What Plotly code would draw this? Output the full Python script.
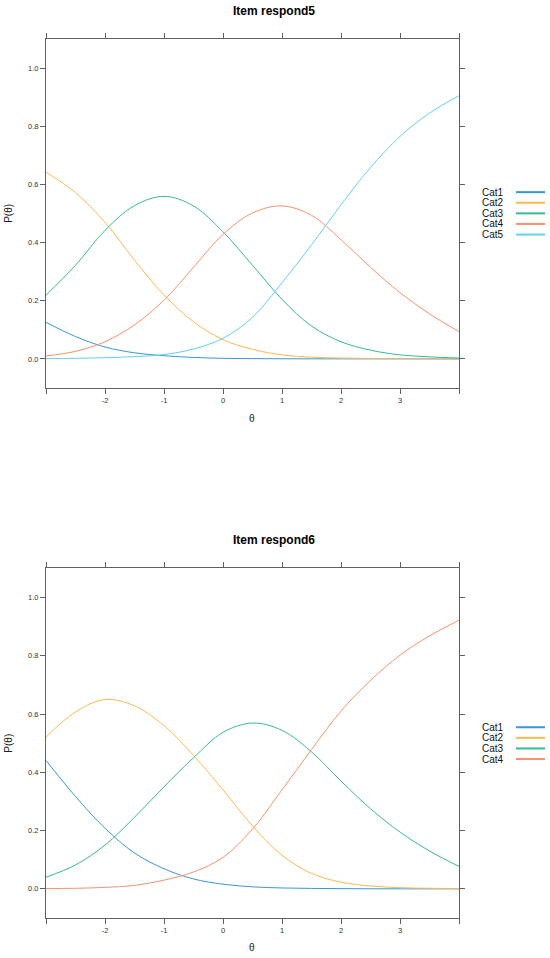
import plotly.graph_objects as go
from plotly.subplots import make_subplots

# ---------------- data ----------------
theta = [-3.0, -2.5, -2.0, -1.5, -1.0, -0.5, 0.0, 0.5, 1.0, 1.5, 2.0, 2.5, 3.0, 3.5, 4.0]

item5_title = "Item respond5"
item5_cats = ["Cat1", "Cat2", "Cat3", "Cat4", "Cat5"]
item5_cat1 = [0.126, 0.077, 0.041, 0.021, 0.011, 0.005, 0.002, 0.001, 0.0005, 0.0003, 0.0002, 0.0001, 0.0001, 0.0, 0.0]
item5_cat2 = [0.642, 0.572, 0.470, 0.340, 0.220, 0.128, 0.066, 0.033, 0.014, 0.006, 0.003, 0.0015, 0.0008, 0.0004, 0.0002]
item5_cat3 = [0.219, 0.322, 0.442, 0.527, 0.559, 0.526, 0.437, 0.322, 0.205, 0.113, 0.059, 0.030, 0.014, 0.007, 0.003]
item5_cat4 = [0.010, 0.026, 0.059, 0.117, 0.202, 0.315, 0.428, 0.502, 0.526, 0.494, 0.410, 0.315, 0.228, 0.155, 0.094]
item5_cat5 = [0.001, 0.002, 0.004, 0.008, 0.015, 0.034, 0.071, 0.143, 0.262, 0.392, 0.530, 0.658, 0.765, 0.845, 0.905]

item6_title = "Item respond6"
item6_cats = ["Cat1", "Cat2", "Cat3", "Cat4"]
item6_cat1 = [0.441, 0.317, 0.208, 0.123, 0.069, 0.034, 0.016, 0.007, 0.003, 0.0015, 0.0007, 0.0003, 0.0001, 0.0, 0.0]
item6_cat2 = [0.521, 0.607, 0.650, 0.628, 0.560, 0.458, 0.340, 0.216, 0.115, 0.053, 0.023, 0.010, 0.004, 0.002, 0.001]
item6_cat3 = [0.040, 0.082, 0.150, 0.246, 0.350, 0.450, 0.537, 0.569, 0.544, 0.470, 0.370, 0.275, 0.195, 0.130, 0.077]
item6_cat4 = [0.001, 0.002, 0.005, 0.012, 0.030, 0.058, 0.108, 0.205, 0.340, 0.478, 0.610, 0.715, 0.802, 0.868, 0.922]

x_tick_vals = [-3, -2, -1, 0, 1, 2, 3, 4]
x_tick_text = ["", "-2", "-1", "0", "1", "2", "3", ""]
y_tick_vals = [0.0, 0.2, 0.4, 0.6, 0.8, 1.0]
y_tick_text = ["0.0", "0.2", "0.4", "0.6", "0.8", "1.0"]

colors5 = ["#3A97D4", "#FDB852", "#36BA90", "#F7916D", "#62D0EF"]
colors6 = ["#3A97D4", "#FDB852", "#36BA90", "#F7916D"]

# ---------------- figure ----------------
W, H = 550, 958
ML, MR, MT, MB = 46, 91, 39, 40
PW, PH = W - ML - MR, H - MT - MB

def px_x(p):
    return (p - ML) / PW

def px_y(p):
    return (H - MB - p) / PH

top_dom = [px_y(388), 1.0]
bot_dom = [0.0, px_y(568.3)]

fig = make_subplots(rows=2, cols=1)

series5 = [item5_cat1, item5_cat2, item5_cat3, item5_cat4, item5_cat5]
series6 = [item6_cat1, item6_cat2, item6_cat3, item6_cat4]

for name, vals, col in zip(item5_cats, series5, colors5):
    fig.add_trace(go.Scatter(x=theta, y=vals, mode="lines", name=name,
                             line=dict(color=col, width=1, shape="spline", smoothing=1.0),
                             showlegend=False), row=1, col=1)
for name, vals, col in zip(item6_cats, series6, colors6):
    fig.add_trace(go.Scatter(x=theta, y=vals, mode="lines", name=name,
                             line=dict(color=col, width=1, shape="spline", smoothing=1.0),
                             showlegend=False), row=2, col=1)

axis_font = dict(family="Liberation Sans, Arial, sans-serif", size=7.5, color="#333333")
common_x = dict(range=[-3, 4], tickmode="array", tickvals=x_tick_vals, ticktext=x_tick_text,
                showline=True, linecolor="#606060", linewidth=1, mirror="ticks",
                ticks="outside", ticklen=5, tickcolor="#606060", tickwidth=1,
                showgrid=False, zeroline=False, tickfont=axis_font)
common_y = dict(range=[-0.1, 1.1], tickmode="array", tickvals=y_tick_vals, ticktext=y_tick_text,
                showline=True, linecolor="#606060", linewidth=1, mirror="ticks",
                ticks="outside", ticklen=5, tickcolor="#606060", tickwidth=1,
                showgrid=False, zeroline=False, tickfont=axis_font)

fig.update_layout(
    width=W, height=H,
    margin=dict(l=ML, r=MR, t=MT, b=MB),
    plot_bgcolor="white", paper_bgcolor="white",
    showlegend=False,
    xaxis=dict(domain=[0, 1], **common_x),
    yaxis=dict(domain=top_dom, **common_y),
    xaxis2=dict(domain=[0, 1], **common_x),
    yaxis2=dict(domain=bot_dom, **common_y),
    font=dict(family="Liberation Sans, Arial, sans-serif"),
)

annotations = []
shapes = []
title_font = dict(family="Liberation Sans, Arial, sans-serif", size=12, color="#000000")
lab_font = dict(family="Liberation Sans, Arial, sans-serif", size=10, color="#222222")
leg_font = dict(family="Liberation Sans, Arial, sans-serif", size=10, color="#111111")

panels = [
    (item5_title, 11, 38.7, 388.0, 418.3, item5_cats, colors5),
    (item6_title, 540, 568.3, 918.0, 947.7, item6_cats, colors6),
]
for title, ty, ptop, pbot, xlab_y, cats, cols in panels:
    annotations.append(dict(text="<b>%s</b>" % title, x=px_x(274), y=px_y(ty), xref="paper", yref="paper",
                            xanchor="center", yanchor="middle", showarrow=False, font=title_font))
    annotations.append(dict(text="θ", x=px_x(252.4), y=px_y(xlab_y), xref="paper", yref="paper",
                            xanchor="center", yanchor="middle", showarrow=False, font=lab_font))
    mid = (ptop + pbot) / 2
    annotations.append(dict(text="P(θ)", x=px_x(8.5), y=px_y(mid), xref="paper", yref="paper",
                            xanchor="center", yanchor="middle", textangle=-90, showarrow=False, font=lab_font))
    n = len(cats)
    step = 10.6
    first = mid - step * (n - 1) / 2
    for i, (c, col) in enumerate(zip(cats, cols)):
        yy = first + i * step
        annotations.append(dict(text=c, x=px_x(505.5), y=px_y(yy), xref="paper", yref="paper",
                                xanchor="right", yanchor="middle", showarrow=False, font=leg_font))
        shapes.append(dict(type="line", xref="paper", yref="paper",
                           x0=px_x(516), x1=px_x(545), y0=px_y(yy), y1=px_y(yy),
                           line=dict(color=col, width=2)))

fig.update_layout(annotations=annotations, shapes=shapes)

fig.write_html("out.html",
               config={"displayModeBar": False},
               post_script="document.body.style.margin='0px';document.body.style.overflow='hidden';")
